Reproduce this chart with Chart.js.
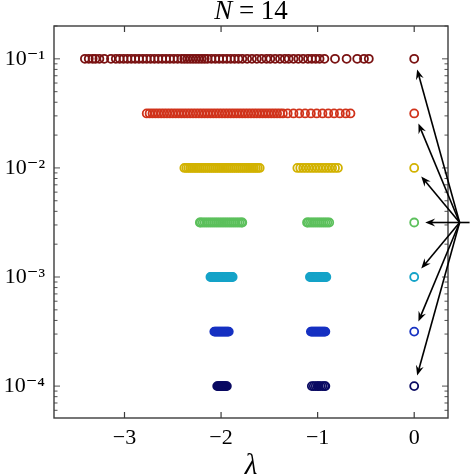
<!DOCTYPE html>
<html><head><meta charset="utf-8">
<script src="https://cdn.jsdelivr.net/npm/chart.js@4/dist/chart.umd.min.js"></script>
<style>html,body{margin:0;padding:0;background:#fff}#wrap{width:474px;height:474px}</style>
</head><body><div id="wrap"><canvas id="c" width="474" height="474"></canvas></div>
<script>
const titleItalic = 'N';
const titleRest = ' = 14';
const xAxisLabel = 'λ';
const xTickValues = [-3, -2, -1, 0];
const xTickLabels = ['−3', '−2', '−1', '0'];
const yTickValues = [1e-4, 1e-3, 1e-2, 1e-1];
const yTickLabels = ['10⁻⁴', '10⁻³', '10⁻²', '10⁻¹'];
const xRange = [-3.73, 0.35];
const yRange = [5.1e-5, 0.2];
const arrowOrigin = { x: 0.47, y: 3.16e-3 };

const rowLevels = [1e-1, 3.16e-2, 1e-2, 3.16e-3, 1e-3, 3.16e-4, 1e-4];
const rowColors = ['#7a1212', '#d0321a', '#d2b200', '#5cc05c', '#15a3c8', '#1631c2', '#0a0a62'];

const row1 = [-3.41,-3.37,-3.33,-3.30,-3.26,-3.21,-3.14,-3.09,-3.05,-3.01,-2.97,-2.93,-2.89,-2.85,-2.81,-2.77,-2.73,-2.69,-2.65,-2.61,-2.57,-2.53,-2.49,-2.45,-2.41,-2.38,-2.35,-2.32,-2.29,-2.26,-2.23,-2.20,-2.17,-2.14,-2.10,-2.06,-2.02,-1.98,-1.94,-1.90,-1.86,-1.82,-1.78,-1.73,-1.68,-1.63,-1.58,-1.53,-1.49,-1.44,-1.39,-1.34,-1.30,-1.25,-1.20,-1.15,-1.10,-1.06,-1.02,-0.98,-0.93,-0.82,-0.70,-0.59,-0.52,-0.47,0];
const row2 = [-2.77,-2.74,-2.71,-2.68,-2.65,-2.62,-2.59,-2.56,-2.53,-2.50,-2.47,-2.44,-2.41,-2.38,-2.35,-2.32,-2.29,-2.26,-2.23,-2.20,-2.17,-2.14,-2.11,-2.08,-2.05,-2.02,-1.99,-1.96,-1.93,-1.90,-1.87,-1.84,-1.81,-1.78,-1.75,-1.72,-1.69,-1.66,-1.63,-1.60,-1.57,-1.54,-1.51,-1.48,-1.45,-1.42,-1.39,-1.36,-1.31,-1.25,-1.19,-1.13,-1.07,-1.01,-0.95,-0.89,-0.83,-0.77,-0.71,-0.66,0];
const row3 = [-2.38,-2.36,-2.34,-2.32,-2.30,-2.28,-2.26,-2.24,-2.22,-2.20,-2.18,-2.16,-2.14,-2.12,-2.10,-2.08,-2.06,-2.04,-2.02,-2.00,-1.98,-1.96,-1.94,-1.92,-1.90,-1.88,-1.86,-1.84,-1.82,-1.80,-1.78,-1.76,-1.74,-1.72,-1.70,-1.68,-1.66,-1.64,-1.62,-1.60,-1.21,-1.18,-1.15,-1.12,-1.09,-1.06,-1.03,-1.00,-0.97,-0.94,-0.91,-0.88,-0.85,-0.82,-0.79,0];
const row4 = [-2.22,-2.21,-2.19,-2.17,-2.15,-2.13,-2.11,-2.09,-2.07,-2.05,-2.03,-2.01,-1.99,-1.97,-1.95,-1.93,-1.91,-1.89,-1.87,-1.85,-1.83,-1.81,-1.79,-1.78,-1.11,-1.10,-1.08,-1.06,-1.04,-1.02,-1.00,-0.98,-0.96,-0.94,-0.92,-0.90,-0.88,0];
const row5 = [-2.11,-2.10,-2.09,-2.08,-2.07,-2.06,-2.05,-2.04,-2.03,-2.02,-2.01,-2.00,-1.99,-1.98,-1.97,-1.96,-1.95,-1.94,-1.93,-1.92,-1.91,-1.90,-1.89,-1.88,-1.08,-1.07,-1.06,-1.05,-1.04,-1.03,-1.02,-1.01,-1.00,-0.99,-0.98,-0.97,-0.96,-0.95,-0.94,-0.93,-0.92,-0.91,0];
const row6 = [-2.07,-2.06,-2.05,-2.04,-2.03,-2.02,-2.01,-2.00,-1.99,-1.98,-1.97,-1.96,-1.95,-1.94,-1.93,-1.92,-1.07,-1.06,-1.05,-1.04,-1.03,-1.02,-1.01,-1.00,-0.99,-0.98,-0.97,-0.96,-0.95,-0.94,-0.93,-0.92,0];
const row7 = [-2.04,-2.03,-2.02,-2.01,-2.00,-1.99,-1.98,-1.97,-1.96,-1.95,-1.94,-1.06,-1.04,-1.02,-1.00,-0.99,-0.97,-0.95,-0.93,-0.92,0];
const rows = [row1, row2, row3, row4, row5, row6, row7];

const FONT = "'Liberation Serif', 'DejaVu Serif', serif";
const FRAME = '#3c3c3c';

const datasets = rows.map((r, i) => ({
  data: r.map(v => ({ x: v, y: rowLevels[i] })),
  borderColor: rowColors[i],
  backgroundColor: 'rgba(0,0,0,0)',
  pointRadius: 4,
  pointBorderWidth: 1.8,
  pointHoverRadius: 4,
  showLine: false
}));

const framePlugin = {
  id: 'frame',
  afterDraw(chart) {
    const { ctx, chartArea: a, scales } = chart;
    const xs = scales.x, ys = scales.y;
    ctx.save();
    ctx.fillStyle = '#000';
    ctx.textBaseline = 'alphabetic';
    const fi = 'italic 27px ' + FONT, fr = '27px ' + FONT;
    ctx.font = fi; const w1 = ctx.measureText(titleItalic).width;
    ctx.font = fr; const w2 = ctx.measureText(titleRest).width;
    const cx = (a.left + a.right) / 2, start = cx - (w1 + w2) / 2, base = 19;
    ctx.font = fi; ctx.textAlign = 'left'; ctx.fillText(titleItalic, start, base);
    ctx.font = fr; ctx.fillText(titleRest, start + w1, base);

    ctx.strokeStyle = FRAME;
    ctx.lineWidth = 1.2;
    xTickValues.forEach(v => {
      const px = xs.getPixelForValue(v);
      ctx.beginPath();
      ctx.moveTo(px, a.bottom); ctx.lineTo(px, a.bottom - 6);
      ctx.moveTo(px, a.top); ctx.lineTo(px, a.top + 6);
      ctx.stroke();
    });
    ctx.lineWidth = 0.9;
    for (let e = -5; e <= 0; e++) {
      for (let m = 1; m <= 9; m++) {
        const v = m * Math.pow(10, e);
        if (v < yRange[0] || v > yRange[1]) continue;
        const py = ys.getPixelForValue(v);
        const len = m === 1 ? 6 : 3.5;
        ctx.beginPath();
        ctx.moveTo(a.left, py); ctx.lineTo(a.left + len, py);
        ctx.moveTo(a.right, py); ctx.lineTo(a.right - len, py);
        ctx.stroke();
      }
    }
    ctx.lineWidth = 1.4;
    ctx.strokeRect(a.left, a.top, a.right - a.left, a.bottom - a.top);
    const ox = xs.getPixelForValue(arrowOrigin.x), oy = ys.getPixelForValue(arrowOrigin.y);
    ctx.strokeStyle = '#000'; ctx.fillStyle = '#000'; ctx.lineWidth = 1.6;
    rowLevels.forEach(lv => {
      const tx = xs.getPixelForValue(0), ty = ys.getPixelForValue(lv);
      const dx = tx - ox, dy = ty - oy, L = Math.hypot(dx, dy);
      const ux = dx / L, uy = dy / L;
      const ex = tx - ux * 11, ey = ty - uy * 11;
      const hl = 10, hw = 4;
      ctx.beginPath();
      ctx.moveTo(ox, oy); ctx.lineTo(ex - ux * hl * 0.6, ey - uy * hl * 0.6);
      ctx.stroke();
      ctx.beginPath();
      ctx.moveTo(ex, ey);
      ctx.lineTo(ex - ux * hl - uy * hw, ey - uy * hl + ux * hw);
      ctx.lineTo(ex - ux * hl * 0.65, ey - uy * hl * 0.65);
      ctx.lineTo(ex - ux * hl + uy * hw, ey - uy * hl - ux * hw);
      ctx.closePath();
      ctx.fill();
    });
    ctx.beginPath(); ctx.moveTo(ox, oy); ctx.lineTo(ox + 10, oy); ctx.stroke();
    ctx.restore();
  }
};

new Chart(document.getElementById('c'), {
  type: 'scatter',
  data: { datasets },
  options: {
    responsive: false,
    animation: false,
    devicePixelRatio: 1,
    layout: { padding: { left: 0, right: 26, top: 26, bottom: 0 } },
    plugins: {
      legend: { display: false },
      tooltip: { enabled: false },
      title: { display: false }
    },
    scales: {
      x: {
        type: 'linear', min: xRange[0], max: xRange[1],
        afterBuildTicks: s => { s.ticks = xTickValues.map(v => ({ value: v })); },
        afterFit: s => { s.height = 56; },
        grid: { display: false, drawTicks: false },
        border: { display: false },
        ticks: {
          callback: (v, i) => xTickLabels[i],
          color: '#000', padding: 7, maxRotation: 0, autoSkip: false,
          font: { family: FONT, size: 22 }
        },
        title: {
          display: true, text: xAxisLabel, color: '#000',
          font: { family: FONT, size: 29, style: 'italic', lineHeight: 1 },
          padding: { top: 0, bottom: -7 }
        }
      },
      y: {
        type: 'logarithmic', min: yRange[0], max: yRange[1],
        afterBuildTicks: s => { s.ticks = yTickValues.map(v => ({ value: v })); },
        afterFit: s => { s.width = 54; },
        grid: { display: false, drawTicks: false },
        border: { display: false },
        ticks: {
          callback: (v, i) => yTickLabels[i],
          color: '#000', padding: 9, autoSkip: false,
          font: { family: FONT, size: 22 }
        }
      }
    }
  },
  plugins: [framePlugin]
});
</script></body></html>
